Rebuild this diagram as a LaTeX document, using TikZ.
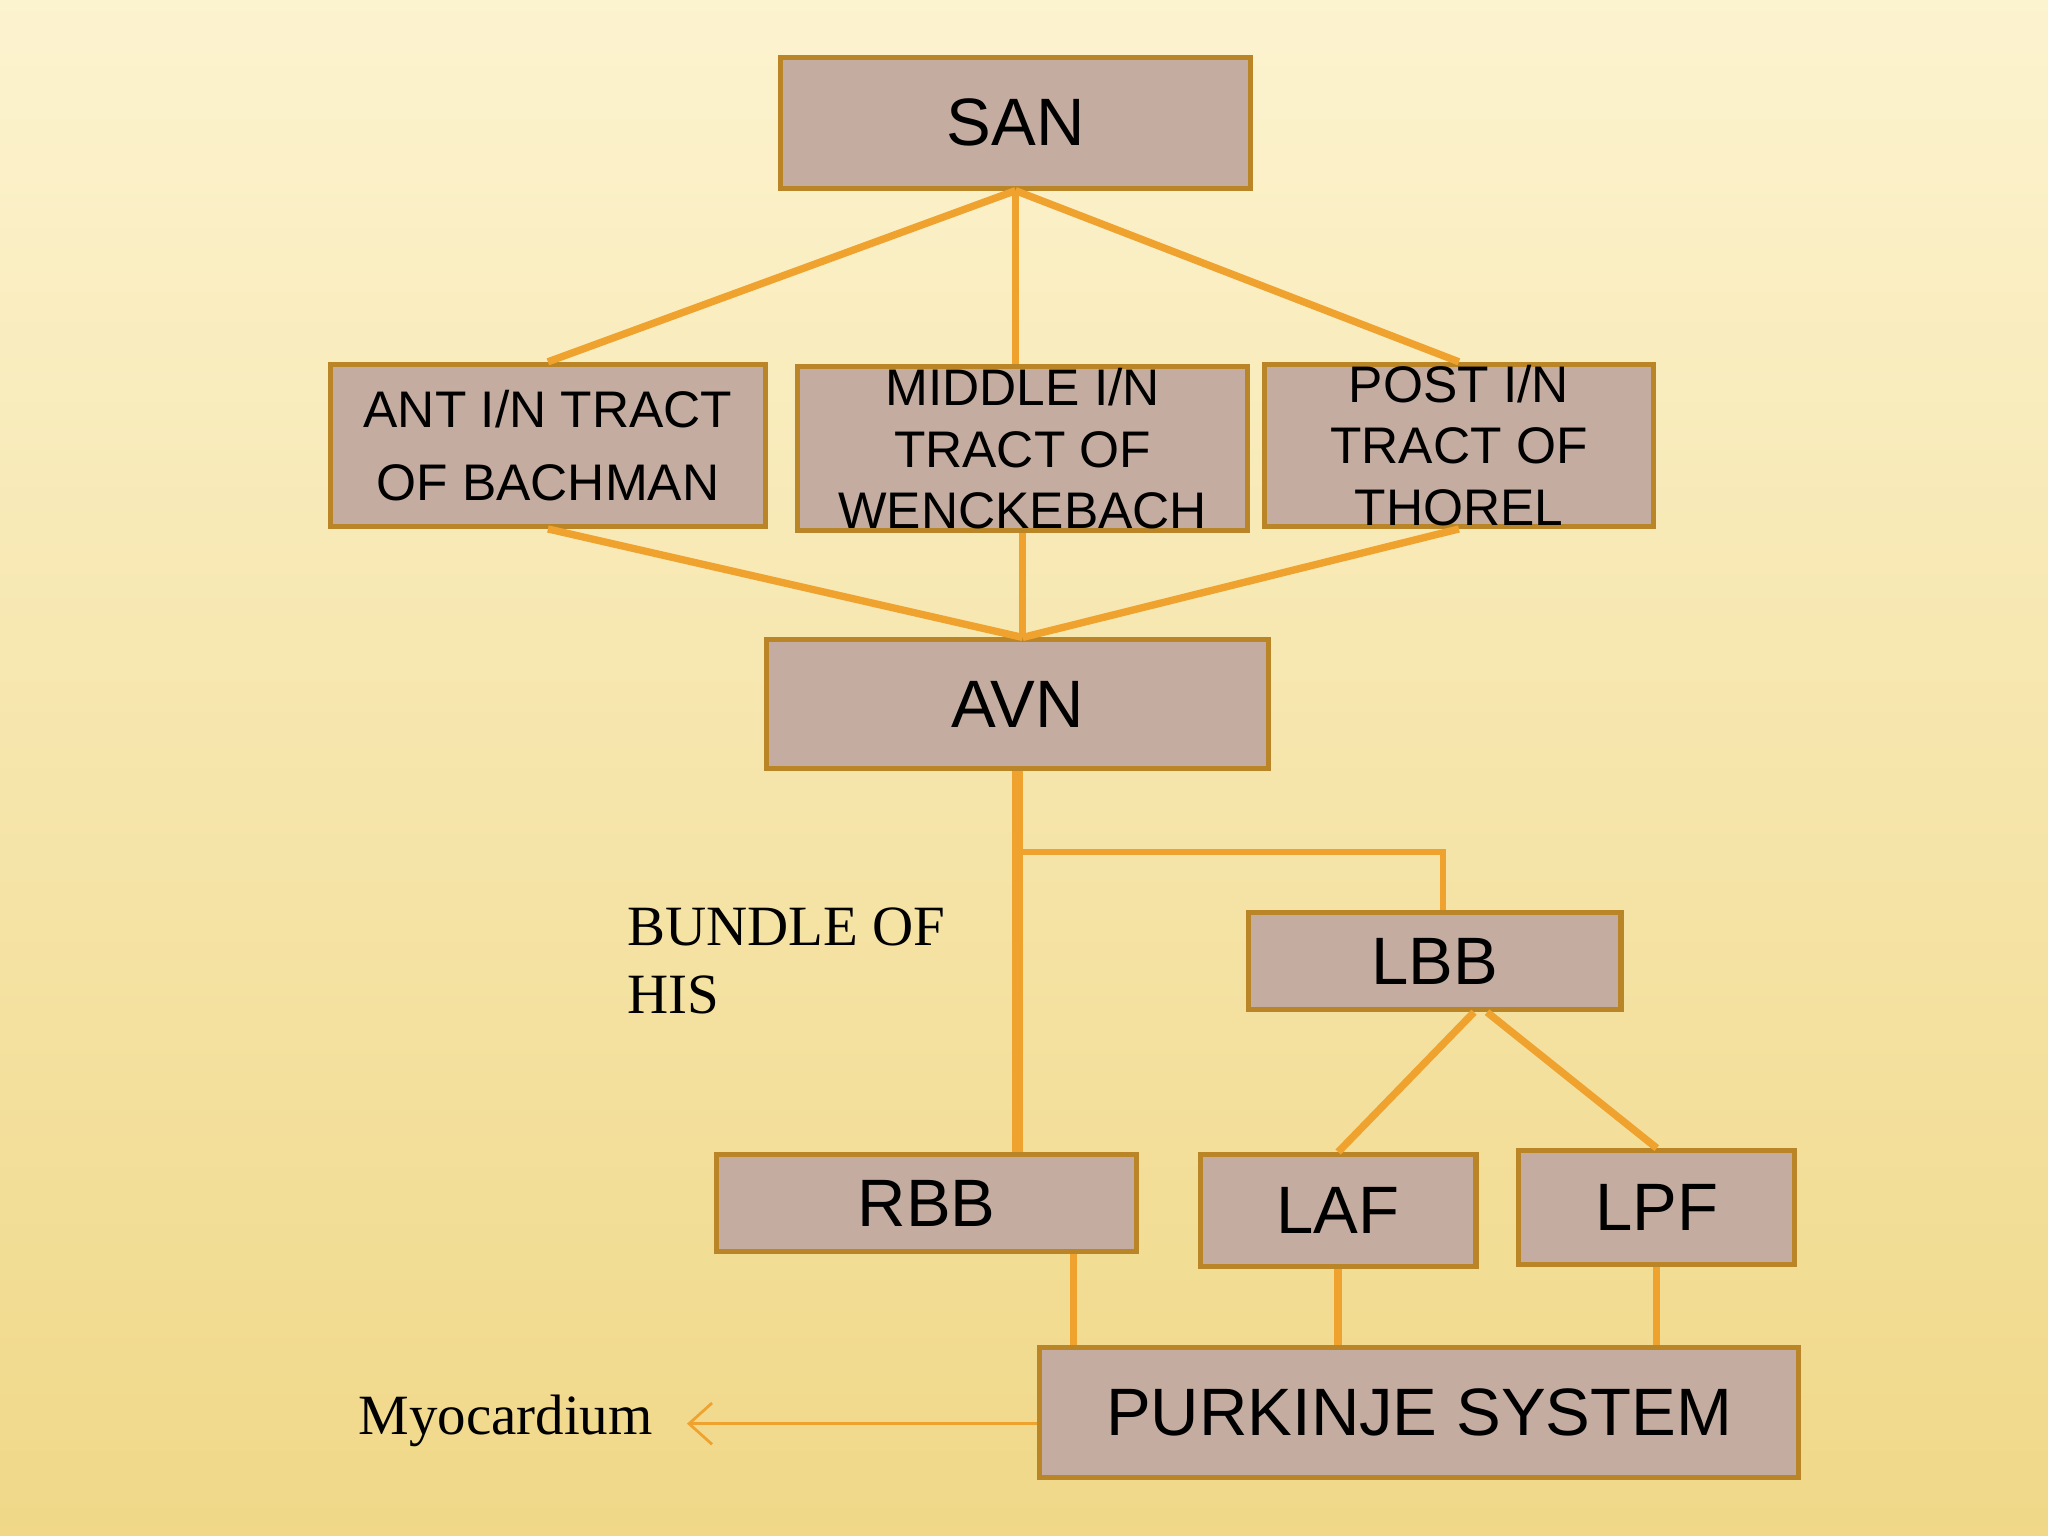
\documentclass[tikz,border=0pt]{standalone}
\usepackage{fontspec}
\setmainfont{Liberation Sans}
\newfontfamily\serifx{Liberation Serif}
\usetikzlibrary{arrows.meta}
\definecolor{boxfill}{HTML}{C4ADA0}
\definecolor{boxdraw}{HTML}{B98526}
\definecolor{wire}{HTML}{EFA22E}
\definecolor{bgtop}{HTML}{FCF3CF}
\definecolor{bgbot}{HTML}{F0D888}
\begin{document}
\begin{tikzpicture}[x=0.01cm,y=-0.01cm,
 box/.style={draw=boxdraw,line width=1.1pt,fill=boxfill,inner sep=0pt,align=center},
 big/.style={font=\fontsize{14.6}{17}\selectfont},
 sml/.style={font=\fontsize{11.2}{13.4}\selectfont},
 wire/.style={draw=wire,line width=1.6pt},
 lbl/.style={font=\serifx\fontsize{12.4}{14.8}\selectfont,align=left,anchor=west}]
\shade[top color=bgtop,bottom color=bgbot] (0,0) rectangle (1568,1176);
\useasboundingbox (0,0) rectangle (1568,1176);
\node[box,big,minimum width=3.59cm,minimum height=1.00cm] (san) at (777.5,94) {SAN};
\node[box,sml,minimum width=3.33cm,minimum height=1.24cm,font=\fontsize{11.2}{16}\selectfont] (ant) at (419.5,341) {ANT I/N TRACT\\OF BACHMAN};
\node[box,sml,minimum width=3.44cm,minimum height=1.25cm] (mid) at (783,343.5) {MIDDLE I/N\\TRACT OF\\WENCKEBACH};
\node[box,sml,minimum width=2.98cm,minimum height=1.24cm] (post) at (1117,341) {POST I/N\\TRACT OF\\THOREL};
\node[box,big,minimum width=3.84cm,minimum height=0.98cm] (avn) at (779,539) {AVN};
\node[box,big,minimum width=2.85cm,minimum height=0.74cm] (lbb) at (1098.5,736) {LBB};
\node[box,big,minimum width=3.21cm,minimum height=0.74cm] (rbb) at (709.5,921) {RBB};
\node[box,big,minimum width=2.11cm,minimum height=0.86cm] (laf) at (1024.5,927) {LAF};
\node[box,big,minimum width=2.11cm,minimum height=0.87cm] (lpf) at (1268.5,924.5) {LPF};
\node[box,big,minimum width=5.81cm,minimum height=0.99cm] (pur) at (1086.5,1081.5) {PURKINJE SYSTEM};
\draw[wire] (san.south) -- (ant.north);
\draw[wire] (san.south) -- (mid.north -| san.south);
\draw[wire] (san.south) -- (post.north);
\draw[wire] (ant.south) -- (avn.north -| mid.south);
\draw[wire] (mid.south) -- (avn.north -| mid.south);
\draw[wire] (post.south) -- (avn.north -| mid.south);
\draw[draw=wire,line width=2.4pt] (avn.south) -- (rbb.north -| avn.south);
\draw[draw=wire,line width=1.3pt] (783,652) -- (1105,652) -- (lbb.north -| 1105,0);
\draw[wire] ([xshift=0.3cm]lbb.south) -- (laf.north);
\draw[wire] ([xshift=0.4cm]lbb.south) -- (lpf.north);
\draw[wire] (rbb.south -| 822,0) -- (pur.north -| 822,0);
\draw[wire] (laf.south) -- (pur.north -| laf.south);
\draw[wire] (lpf.south) -- (pur.north -| lpf.south);
\coordinate (myo) at (526,1090);
\draw[draw=wire,line width=0.6pt,-{Straight Barb[length=5pt,width=9pt]}] (pur.west |- myo) -- (myo);
\node[lbl] (myol) at (262,1088) {Myocardium};
\node[lbl] (his) at (468,736) {BUNDLE OF\\HIS};
\end{tikzpicture}
\end{document}
